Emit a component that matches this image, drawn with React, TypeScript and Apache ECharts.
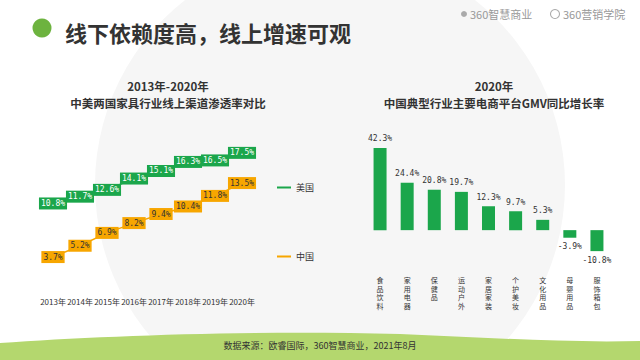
import React, { useEffect, useRef } from "react";
import * as echarts from "echarts";

const years = ["2013年", "2014年", "2015年", "2016年", "2017年", "2018年", "2019年", "2020年"];
const usValues = [10.8, 11.7, 12.6, 14.1, 15.1, 16.3, 16.5, 17.5];
const cnValues = [3.7, 5.2, 6.9, 8.2, 9.4, 10.4, 11.8, 13.5];

const industries = ["食品饮料", "家用电器", "保健品", "运动户外", "家居家装", "个护美妆", "文化用品", "母婴用品", "服饰箱包"];
const gmvGrowth = [42.3, 24.4, 20.8, 19.7, 12.3, 9.7, 5.3, -3.9, -10.8];

const GREEN = "#1ba64b";
const ORANGE = "#f7a600";
const MONO = "'DejaVu Sans Mono', 'Liberation Mono', monospace";
const SANS = "'Noto Sans CJK SC', 'Noto Sans', sans-serif";

echarts.graphic.registerShape(
  "band",
  echarts.graphic.extendPath(
    "M0 343 C 100 336, 250 330, 400 334 C 480 337, 560 343, 640 341 L640 360 L0 360 Z",
    {}
  )
);

const titleStyle = (text: string) => ({
  text, fontSize: 11.5, fontWeight: "bold", fill: "#333", fontFamily: SANS, textAlign: "center", textVerticalAlign: "middle",
});

export default function App() {
  const ref = useRef<HTMLDivElement>(null);
  useEffect(() => {
    if (!ref.current) return;
    const chart = echarts.init(ref.current, null, { renderer: "svg" });
    chart.setOption({
      animation: false,
      backgroundColor: "#ffffff",
      textStyle: { fontFamily: SANS },
      graphic: [
        { type: "circle", z: -10, shape: { cx: 330, cy: 185, r: 235 }, style: { fill: "#f6f6f6" } },
        { type: "band", z: -5, x: 0, y: 0, style: { fill: "#b4d76e" } },
        { type: "circle", shape: { cx: 42, cy: 28, r: 9.5 }, style: { fill: "#6db33f" } },
        {
          type: "text", x: 65, y: 32,
          style: { text: "线下依赖度高，线上增速可观", fontSize: 22, fontWeight: "bold", fill: "#333", fontFamily: SANS, textVerticalAlign: "middle" },
        },
        {
          type: "text", x: 470, y: 14,
          style: { text: "360智慧商业", fontSize: 11, fill: "#999", fontFamily: SANS, textVerticalAlign: "middle" },
        },
        { type: "circle", shape: { cx: 464, cy: 14, r: 3 }, style: { fill: "#aaa" } },
        { type: "ring", shape: { cx: 555, cy: 14, r: 5, r0: 4 }, style: { fill: "#aaa" } },
        {
          type: "text", x: 563, y: 14,
          style: { text: "360营销学院", fontSize: 11, fill: "#999", fontFamily: SANS, textVerticalAlign: "middle" },
        },
        { type: "text", x: 168, y: 86, style: titleStyle("2013年-2020年") },
        { type: "text", x: 168, y: 102.5, style: titleStyle("中美两国家具行业线上渠道渗透率对比") },
        { type: "text", x: 494, y: 86, style: titleStyle("2020年") },
        { type: "text", x: 494, y: 102.5, style: titleStyle("中国典型行业主要电商平台GMV同比增长率") },
        {
          type: "text", x: 320, y: 345,
          style: { text: "数据来源：欧睿国际，360智慧商业，2021年8月", fontSize: 9, fill: "#333", fontFamily: SANS, textAlign: "center", textVerticalAlign: "middle" },
        },
      ],
      legend: [
        {
          data: [{ name: "美国", icon: "rect" }], left: 272, top: 178, itemWidth: 14, itemHeight: 2,
          textStyle: { fontSize: 9, color: "#333", fontFamily: SANS }, itemGap: 2,
        },
        {
          data: [{ name: "中国", icon: "rect" }], left: 272, top: 247, itemWidth: 14, itemHeight: 2,
          textStyle: { fontSize: 9, color: "#333", fontFamily: SANS }, itemGap: 2,
        },
      ],
      grid: [
        { left: 39.5, width: 216, top: 134, height: 151 },
        { left: 366.5, width: 244, top: 133, height: 136 },
      ],
      xAxis: [
        {
          gridIndex: 0, type: "category", data: years,
          axisLine: { show: false }, axisTick: { show: false },
          axisLabel: { fontSize: 8, color: "#333", margin: 12, fontFamily: SANS, interval: 0 },
        },
        {
          gridIndex: 1, type: "category", data: industries,
          axisLine: { show: false, onZero: false }, axisTick: { show: false },
          axisLabel: {
            fontSize: 7, lineHeight: 8.5, color: "#333", margin: 7, fontFamily: SANS, interval: 0, rotate: 0,
            verticalAlign: "top", hideOverlap: false,
            formatter: (v: string) => v.split("").join("\n"),
          },
        },
      ],
      yAxis: [
        { gridIndex: 0, type: "value", min: 0, max: 20, show: false },
        { gridIndex: 1, type: "value", min: -20, max: 50, show: false },
      ],
      series: [
        {
          name: "美国", type: "line", xAxisIndex: 0, yAxisIndex: 0, data: usValues,
          color: GREEN, lineStyle: { color: GREEN, width: 1.5 },
          symbol: "circle", symbolSize: 1,
          label: {
            show: true, position: "inside", formatter: (p: any) => p.value.toFixed(1) + "%",
            backgroundColor: GREEN, color: "#fff", fontSize: 8, fontFamily: MONO, padding: [2, 2],
          },
        },
        {
          name: "中国", type: "line", xAxisIndex: 0, yAxisIndex: 0, data: cnValues,
          color: ORANGE, lineStyle: { color: ORANGE, width: 1.5 },
          symbol: "circle", symbolSize: 1,
          label: {
            show: true, position: "inside", formatter: (p: any) => p.value.toFixed(1) + "%",
            backgroundColor: ORANGE, color: "#333", fontSize: 8, fontFamily: MONO, padding: [2, 2],
          },
        },
        {
          name: "GMV", type: "bar", xAxisIndex: 1, yAxisIndex: 1,
          data: gmvGrowth.map((v) => ({
            value: v,
            label: { position: v >= 0 ? "top" : "bottom" },
          })),
          barWidth: 13, itemStyle: { color: GREEN },
          label: {
            show: true, formatter: (p: any) => p.value.toFixed(1) + "%",
            color: "#333", fontSize: 8, fontFamily: MONO, distance: 5,
          },
        },
      ],
    });
    return () => chart.dispose();
  }, []);
  return <div ref={ref} style={{ position: "fixed", left: 0, top: 0, width: 640, height: 360 }} />;
}
